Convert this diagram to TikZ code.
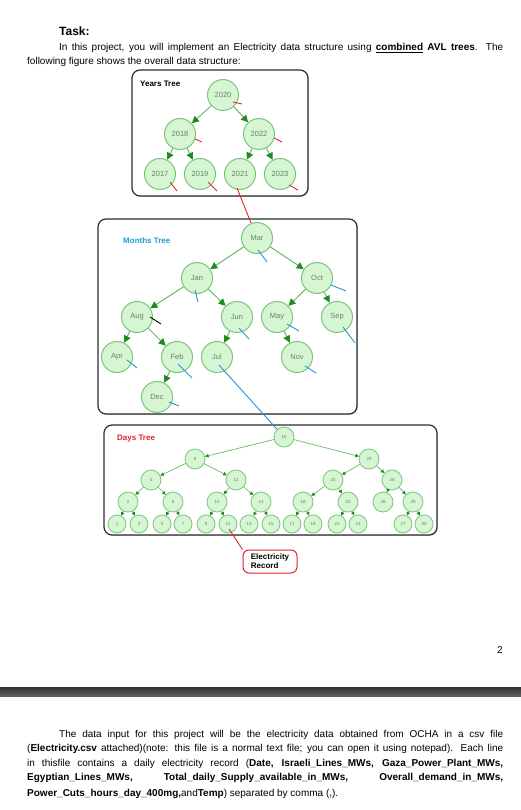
\documentclass[tikz,border=0pt]{standalone}
\usepackage{fontspec}
\setmainfont{Liberation Sans}
\usetikzlibrary{arrows.meta,shadows}
\definecolor{NodeFill}{HTML}{D6F5D3}
\definecolor{NodeLine}{HTML}{7CC67A}
\definecolor{NodeText}{HTML}{5E8C5E}
\definecolor{EdgeGreen}{HTML}{6CBB6A}
\definecolor{TipGreen}{HTML}{1E8C1E}
\definecolor{PtrRed}{HTML}{E3262E}
\definecolor{PtrBlue}{HTML}{1E9AD6}
\definecolor{BoxLine}{HTML}{2E2E2E}

\tikzset{
  txt/.style={anchor=base west, inner sep=0pt, font=\fontsize{10}{12}\selectfont},
  treebox/.style={draw=BoxLine, fill=white, line width=1.2pt, rounded corners=8pt,
    drop shadow={shadow xshift=0.8pt, shadow yshift=-0.8pt, opacity=0.45}},
  treetitle/.style={anchor=base west, inner sep=0pt, font=\fontsize{8}{9}\selectfont\bfseries},
  ynode/.style={circle, draw=NodeLine, fill=NodeFill, line width=1pt, minimum size=31pt,
    inner sep=0pt, text=NodeText, font=\fontsize{7.5}{9}\selectfont},
  dnode/.style={ynode, minimum size=20pt, line width=0.8pt, font=\fontsize{4.5}{5}\selectfont},
  leaf/.style={dnode, minimum size=18pt},
  tedge/.style={draw=EdgeGreen, line width=1pt, -{Triangle[length=7pt,width=7pt,color=TipGreen]}},
  dedge/.style={draw=EdgeGreen, line width=0.7pt, -{Triangle[length=3.5pt,width=3.5pt,color=TipGreen]}},
  redptr/.style={draw=PtrRed, line width=0.9pt},
  blueptr/.style={draw=PtrBlue, line width=0.9pt},
  recbox/.style={draw=PtrRed, fill=white, line width=1pt, rounded corners=6pt, minimum width=54pt,
    minimum height=23pt, align=left, font=\fontsize{8}{9}\selectfont\bfseries}
}

\begin{document}
\begin{tikzpicture}[x=1pt,y=-1pt]
  \useasboundingbox (0,0) rectangle (521,810);
  \fill[white] (0,0) rectangle (521,810);

  % page text, top
  \node[txt, font=\fontsize{12}{14}\selectfont\bfseries] (task) at (59,35.7) {Task:};
  \node[txt] (intro1) at (59,50.5) {\makebox[444pt][s]{In this project, you will implement an Electricity data structure using \textbf{\underline{combined}} \textbf{AVL trees}. The}};
  \node[txt] (intro2) at (27,64.5) {following figure shows the overall data structure:};

  % the three boxes
  \node[treebox, minimum width=176pt, minimum height=126pt] (yearsbox) at (220,133) {};
  \node[treebox, minimum width=259pt, minimum height=195pt] (monthsbox) at (227.5,316.5) {};
  \node[treebox, minimum width=333pt, minimum height=110pt] (daysbox) at (270.5,480) {};

  \node[treetitle] (ytitle) at (140,87) {Years Tree};
  \node[treetitle, text=PtrBlue] (mtitle) at (123,243) {Months Tree};
  \node[treetitle, text=PtrRed] (dtitle) at (117,440) {Days Tree};

  % years tree
  \foreach \n/\x/\y in {2020/223/95, 2018/180/134, 2022/259/134, 2017/160/174,
                        2019/200/174, 2021/240/174, 2023/280/174}
    \node[ynode] (y\n) at (\x,\y) {\n};
  \foreach \a/\b in {2020/2018, 2020/2022, 2018/2017, 2018/2019, 2022/2021, 2022/2023}
    \draw[tedge] (y\a) -- (y\b);

  % months tree
  \foreach \n/\x/\y in {Mar/257/238, Jan/197/278, Oct/317/278, Aug/137/317, Jun/237/317,
                        May/277/317, Sep/337/317, Apr/117/357, Feb/177/357, Jul/217/357,
                        Nov/297/357, Dec/157/397}
    \node[ynode] (m\n) at (\x,\y) {\n};
  \foreach \a/\b in {Mar/Jan, Mar/Oct, Jan/Aug, Jan/Jun, Aug/Apr, Aug/Feb, Feb/Dec,
                     Jun/Jul, Oct/May, Oct/Sep, May/Nov}
    \draw[tedge] (m\a) -- (m\b);

  % days tree
  \foreach \n/\x/\y in {16/284/437, 8/195/459, 24/369/459, 4/151/480, 12/236/480,
                        20/333/480, 28/392/480, 2/128/502, 6/173/502, 10/217/502,
                        14/261/502, 18/303/502, 22/348/502, 26/383/502, 29/413/502}
    \node[dnode] (d\n) at (\x,\y) {\n};
  \foreach \n/\x in {1/117, 3/139, 5/162, 7/183, 9/206, 11/228, 13/249, 15/271,
                     17/292, 19/313, 21/337, 23/358, 27/403, 30/424}
    \node[leaf] (d\n) at (\x,524) {\n};
  \foreach \a/\b in {16/8, 16/24, 8/4, 8/12, 24/20, 24/28, 4/2, 4/6, 12/10, 12/14,
                     20/18, 20/22, 28/26, 28/29, 2/1, 2/3, 6/5, 6/7, 10/9, 10/11,
                     14/13, 14/15, 18/17, 18/19, 22/21, 22/23, 29/27, 29/30}
    \draw[dedge] (d\a) -- (d\b);

  \node[recbox] (rec) at (270,561.5) {Electricity\\Record};

  % pointers out of the nodes
  \foreach \n/\sx/\sy/\ex/\ey in {2020/10/7/9/2, 2018/15/5/7/3, 2022/15/4/8/4,
                                  2017/10/8/7/9, 2019/8/8/9/9, 2023/9/11/9/5}
    \draw[redptr] ([shift={(\sx,\sy)}]y\n.center) -- ++(\ex,\ey);
  \foreach \n/\sx/\sy/\ex/\ey in {Mar/1/12/9/12, Jan/-2/12/3/12, Jun/2/11/10/11,
                                  Apr/10/3/10/8, Feb/1/7/14/14, Dec/12/5/10/4,
                                  Oct/14/7/15/6, May/10/7/12/7, Sep/6/10/12/16,
                                  Nov/8/9/11/7}
    \draw[blueptr] ([shift={(\sx,\sy)}]m\n.center) -- ++(\ex,\ey);
  \draw[line width=0.9pt] ([shift={(13,0)}]mAug.center) -- ++(11,7);

  \draw[redptr] ([shift={(-3,14)}]y2021.center) -- (mMar);
  \draw[blueptr] ([shift={(2,8)}]mJul.center) -- (d16);
  \draw[redptr] ([shift={(1,5)}]d11.center) -- (rec.north west);

  % page number and page break
  \node[txt] (pagenum) at (497,653.5) {2};
  \shade[top color=black!80, bottom color=black!62] (0,687) rectangle (521,696);

  % page text, bottom
  \node[txt] (data1) at (59,737.3) {\makebox[444pt][s]{The data input for this project will be the electricity data obtained from OCHA in a csv file}};
  \node[txt] (data2) at (27,751.7) {\makebox[476pt][s]{(\textbf{Electricity.csv} attached)(note: this file is a normal text file; you can open it using notepad). Each line}};
  \node[txt] (data3) at (27,766.3) {\makebox[476pt][s]{in thisfile contains a daily electricity record (\textbf{Date, Israeli\_Lines\_MWs, Gaza\_Power\_Plant\_MWs,}}};
  \node[txt] (data4) at (27,780.7) {\makebox[476pt][s]{\textbf{Egyptian\_Lines\_MWs, Total\_daily\_Supply\_available\_in\_MWs, Overall\_demand\_in\_MWs,}}};
  \node[txt] (data5) at (27,796.7) {\textbf{Power\_Cuts\_hours\_day\_400mg,}and\textbf{Temp}) separated by comma (\textcolor{PtrRed}{\textbf{,}}).};
\end{tikzpicture}
\end{document}
